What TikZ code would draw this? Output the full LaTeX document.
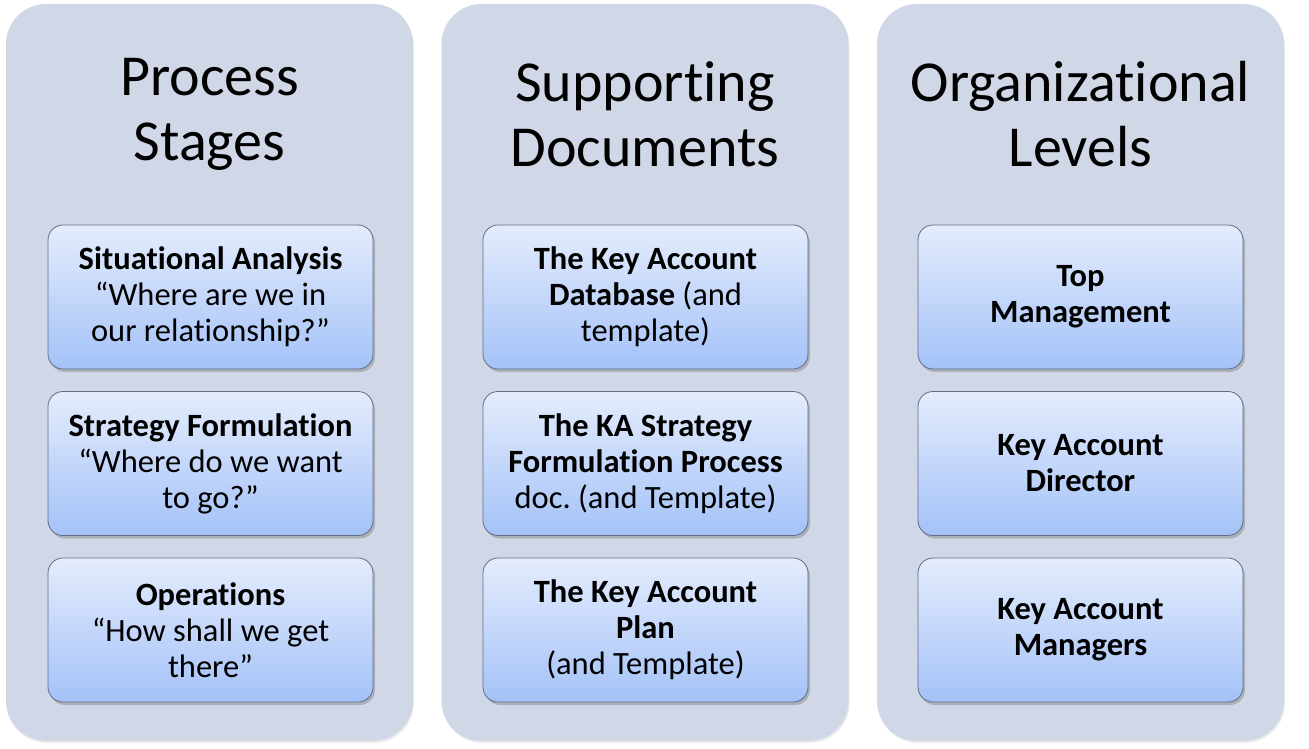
\documentclass[tikz,border=0pt]{standalone}
\usepackage{fontspec}
\setmainfont{Carlito}[Ligatures=NoCommon]
\usetikzlibrary{shadows}

\definecolor{panelfill}{RGB}{208,216,232}
\definecolor{boxtop}{RGB}{228,236,252}
\definecolor{boxbottom}{RGB}{164,194,248}
\definecolor{boxline}{RGB}{96,108,136}
\frenchspacing

\begin{document}
\begin{tikzpicture}[x=1pt, y=-1pt,
    panel/.style ={rounded corners=40pt, fill=panelfill, minimum width=407pt, minimum height=737pt,
      drop shadow={shadow xshift=1pt, shadow yshift=-2pt, opacity=0.15}},
    heading/.style ={align=center, font=\fontsize{58}{65}\selectfont},
    stage/.style ={rounded corners=15pt, draw=boxline, thick, top color=boxtop, bottom color=boxbottom,
      minimum width=325pt, minimum height=144pt, align=center, inner sep=0pt,
      font=\fontsize{32.5}{36}\selectfont,
      drop shadow={shadow xshift=2pt, shadow yshift=-3pt, opacity=0.45}}]
   \useasboundingbox (0,0) rectangle (1309,749);
   \node[panel] (P1) at (209.5,372.5) {};
   \node[panel] (P2) at (645,372.5) {};
   \node[panel] (P3) at (1080.5,372.5) {};
   \node[heading] (H1) at (209.5,114) {Process\\Stages};
   \node[heading] (H2) at (645,114) {Supporting\\Documents};
   \node[heading] (H3) at (1080.5,114) {Organizational\\Levels};
   % process stages
   \node[stage] (S1) at (210.5,297) {\textbf{Situational Analysis}\\“Where are we in\\our relationship?”};
   \node[stage] (S2) at (210.5,463.5) {\textbf{Strategy Formulation}\\“Where do we want\\to go?”};
   \node[stage] (S3) at (210.5,630) {\textbf{Operations}\\“How shall we get\\there”};
   % supporting documents
   \node[stage] (D1) at (645.5,297) {\textbf{The Key Account}\\\textbf{Database} (and\\template)};
   \node[stage] (D2) at (645.5,463.5) {\textbf{The KA Strategy}\\\textbf{Formulation Process}\\doc. (and Template)};
   \node[stage] (D3) at (645.5,630) {\textbf{The Key Account}\\\textbf{Plan}\\(and Template)};
   % organizational levels
   \node[stage, font=\fontsize{32.5}{36}\selectfont\bfseries] (L1) at (1080.5,297) {Top\\Management};
   \node[stage, font=\fontsize{32.5}{36}\selectfont\bfseries] (L2) at (1080.5,463.5) {Key Account\\Director};
   \node[stage, font=\fontsize{32.5}{36}\selectfont\bfseries] (L3) at (1080.5,630) {Key Account\\Managers};
\end{tikzpicture}
\end{document}
